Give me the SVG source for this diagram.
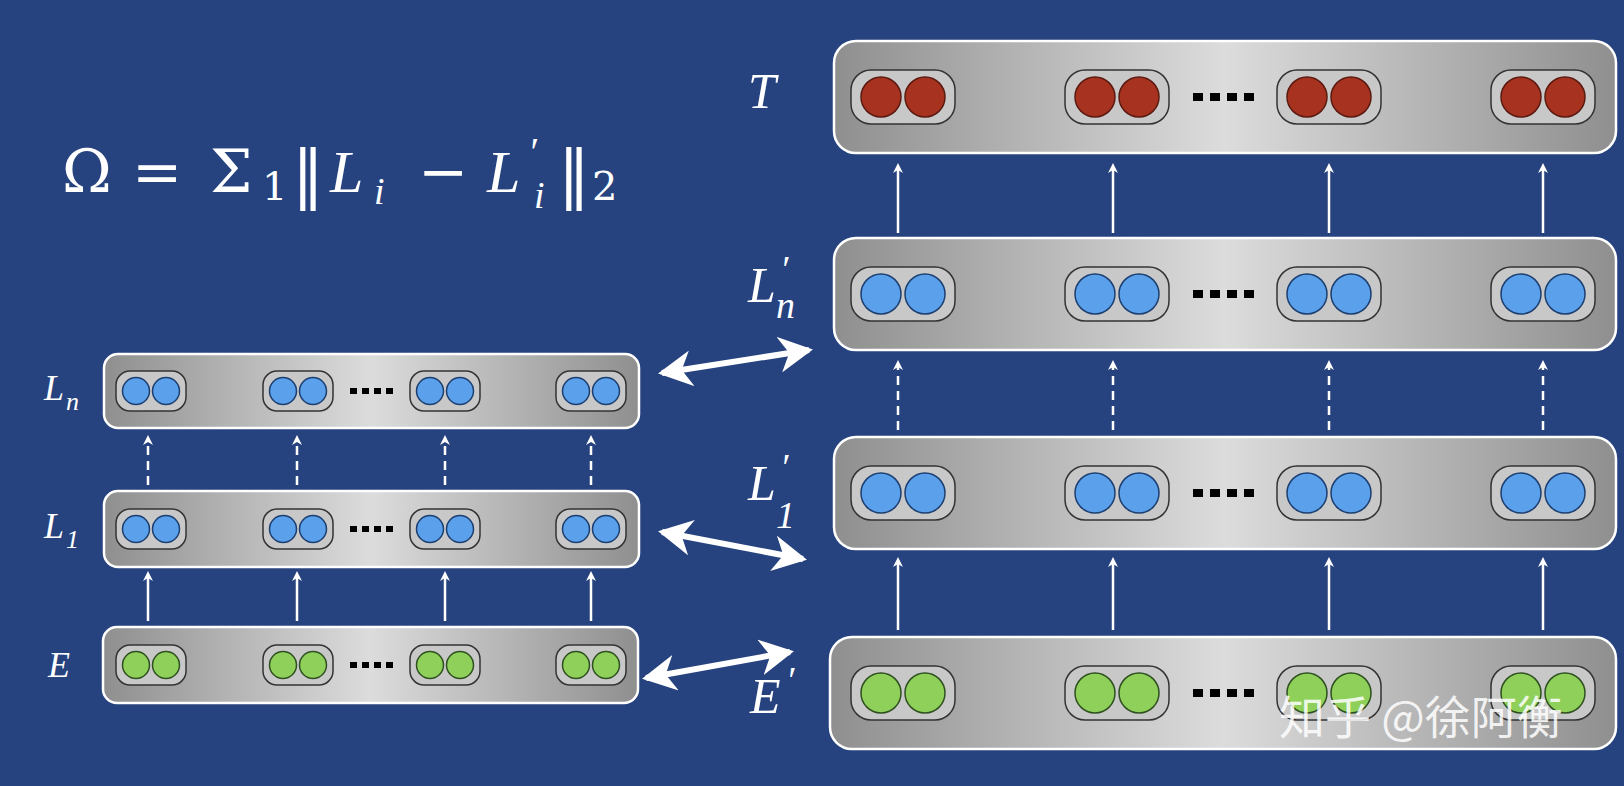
<svg xmlns="http://www.w3.org/2000/svg" width="1624" height="786" viewBox="0 0 1624 786">
<defs>
<linearGradient id="g" x1="0" x2="1" y1="0" y2="0"><stop offset="0" stop-color="#8f8f8f"/><stop offset="0.5" stop-color="#dcdcdc"/><stop offset="1" stop-color="#8f8f8f"/></linearGradient>
<marker id="ah" markerWidth="10" markerHeight="10" refX="5" refY="5" orient="auto" markerUnits="userSpaceOnUse" viewBox="0 0 10 10"><path d="M0,0 L10,5 L0,10 L3,5 Z" fill="#fff"/></marker>
<marker id="bh" markerWidth="40" markerHeight="36" refX="30" refY="18" orient="auto-start-reverse" markerUnits="userSpaceOnUse" viewBox="0 0 40 36"><path d="M0,0 L34,18 L0,36 L10,18 Z" fill="#fff"/></marker>
<style>
.box{fill:url(#g);stroke:#fff;stroke-width:2.5}
.pair{fill:#c8c8c8;stroke:#333;stroke-width:1.5}
.r{fill:#a83220;stroke:#5a1a10;stroke-width:1.5}
.b{fill:#5aa0ea;stroke:#1c3e70;stroke-width:1.5}
.gr{fill:#8fd05a;stroke:#2f5020;stroke-width:1.5}
.lab{font-family:"Liberation Serif","DejaVu Serif",serif;font-style:italic;fill:#fff}
.f{font-family:"DejaVu Serif","Liberation Serif",serif;fill:#fff}
.a{stroke:#fff;stroke-width:2.5;fill:none;marker-end:url(#ah)}
.d{stroke:#fff;stroke-width:2.5;fill:none;stroke-dasharray:9 6;marker-end:url(#ah)}
.dbl{stroke:#fff;stroke-width:6;fill:none;marker-start:url(#bh);marker-end:url(#bh)}
</style>
<g id="pR"><rect x="-52" y="-27" width="104" height="54" rx="20" class="pair"/></g>
<g id="pL"><rect x="-35" y="-20" width="70" height="40" rx="14" class="pair"/></g>
</defs>
<rect width="1624" height="786" fill="#27437f"/>
<g id="formula" class="f">
<text x="62" y="192" font-size="60">Ω</text>
<text x="132" y="192" font-size="60">=</text>
<text x="210" y="192" font-size="60">Σ</text>
<text x="262" y="200" font-size="40">1</text>
<text x="292" y="196" font-size="64">‖</text>
<text x="330" y="192" font-size="60" font-style="italic" font-family="Liberation Serif,serif">L</text>
<text x="374" y="204" font-size="38" font-style="italic" font-family="Liberation Serif,serif">i</text>
<text x="418" y="192" font-size="60">−</text>
<text x="487" y="192" font-size="60" font-style="italic" font-family="Liberation Serif,serif">L</text>
<text x="528" y="165" font-size="40" font-style="italic" font-family="Liberation Serif,serif">′</text>
<text x="534" y="208" font-size="38" font-style="italic" font-family="Liberation Serif,serif">i</text>
<text x="558" y="196" font-size="64">‖</text>
<text x="592" y="200" font-size="40">2</text>
</g>

<g id="T">
<rect x="834" y="41" width="782" height="112" rx="22" class="box"/>
<use href="#pR" x="903" y="97"/><circle cx="881" cy="97" r="20" class="r"/><circle cx="925" cy="97" r="20" class="r"/>
<use href="#pR" x="1117" y="97"/><circle cx="1095" cy="97" r="20" class="r"/><circle cx="1139" cy="97" r="20" class="r"/>
<use href="#pR" x="1329" y="97"/><circle cx="1307" cy="97" r="20" class="r"/><circle cx="1351" cy="97" r="20" class="r"/>
<use href="#pR" x="1543" y="97"/><circle cx="1521" cy="97" r="20" class="r"/><circle cx="1565" cy="97" r="20" class="r"/>
<path d="M1193,97h62" stroke="#000" stroke-width="8" stroke-dasharray="10 7"/>
<text x="748" y="108" font-size="50" class="lab">T</text>
</g>
<g id="Lnp">
<rect x="834" y="238" width="782" height="112" rx="22" class="box"/>
<use href="#pR" x="903" y="294"/><circle cx="881" cy="294" r="20" class="b"/><circle cx="925" cy="294" r="20" class="b"/>
<use href="#pR" x="1117" y="294"/><circle cx="1095" cy="294" r="20" class="b"/><circle cx="1139" cy="294" r="20" class="b"/>
<use href="#pR" x="1329" y="294"/><circle cx="1307" cy="294" r="20" class="b"/><circle cx="1351" cy="294" r="20" class="b"/>
<use href="#pR" x="1543" y="294"/><circle cx="1521" cy="294" r="20" class="b"/><circle cx="1565" cy="294" r="20" class="b"/>
<path d="M1193,294h62" stroke="#000" stroke-width="8" stroke-dasharray="10 7"/>
<text x="748" y="302" font-size="50" class="lab">L</text>
<text x="780" y="282" font-size="38" class="lab">′</text>
<text x="776" y="318" font-size="38" class="lab">n</text>
</g>
<g id="L1p">
<rect x="834" y="437" width="782" height="112" rx="22" class="box"/>
<use href="#pR" x="903" y="493"/><circle cx="881" cy="493" r="20" class="b"/><circle cx="925" cy="493" r="20" class="b"/>
<use href="#pR" x="1117" y="493"/><circle cx="1095" cy="493" r="20" class="b"/><circle cx="1139" cy="493" r="20" class="b"/>
<use href="#pR" x="1329" y="493"/><circle cx="1307" cy="493" r="20" class="b"/><circle cx="1351" cy="493" r="20" class="b"/>
<use href="#pR" x="1543" y="493"/><circle cx="1521" cy="493" r="20" class="b"/><circle cx="1565" cy="493" r="20" class="b"/>
<path d="M1193,493h62" stroke="#000" stroke-width="8" stroke-dasharray="10 7"/>
<text x="748" y="500" font-size="50" class="lab">L</text>
<text x="780" y="480" font-size="38" class="lab">′</text>
<text x="776" y="528" font-size="38" class="lab" font-style="normal">1</text>
</g>
<g id="Ep">
<rect x="830" y="637" width="786" height="112" rx="22" class="box"/>
<use href="#pR" x="903" y="693"/><circle cx="881" cy="693" r="20" class="gr"/><circle cx="925" cy="693" r="20" class="gr"/>
<use href="#pR" x="1117" y="693"/><circle cx="1095" cy="693" r="20" class="gr"/><circle cx="1139" cy="693" r="20" class="gr"/>
<use href="#pR" x="1329" y="693"/><circle cx="1307" cy="693" r="20" class="gr"/><circle cx="1351" cy="693" r="20" class="gr"/>
<use href="#pR" x="1543" y="693"/><circle cx="1521" cy="693" r="20" class="gr"/><circle cx="1565" cy="693" r="20" class="gr"/>
<path d="M1193,693h62" stroke="#000" stroke-width="8" stroke-dasharray="10 7"/>
<text x="750" y="713" font-size="50" class="lab">E</text>
<text x="786" y="693" font-size="38" class="lab">′</text>
</g>
<g id="Ln">
<rect x="104" y="354" width="535" height="74" rx="14" class="box"/>
<use href="#pL" x="151" y="391"/><circle cx="136" cy="391" r="13.5" class="b"/><circle cx="166" cy="391" r="13.5" class="b"/>
<use href="#pL" x="298" y="391"/><circle cx="283" cy="391" r="13.5" class="b"/><circle cx="313" cy="391" r="13.5" class="b"/>
<use href="#pL" x="445" y="391"/><circle cx="430" cy="391" r="13.5" class="b"/><circle cx="460" cy="391" r="13.5" class="b"/>
<use href="#pL" x="591" y="391"/><circle cx="576" cy="391" r="13.5" class="b"/><circle cx="606" cy="391" r="13.5" class="b"/>
<path d="M350,391h45" stroke="#000" stroke-width="6" stroke-dasharray="7 5"/>
<text x="44" y="400" font-size="36" class="lab">L</text>
<text x="66" y="410" font-size="26" class="lab">n</text>
</g>
<g id="L1">
<rect x="104" y="491" width="535" height="76" rx="14" class="box"/>
<use href="#pL" x="151" y="529"/><circle cx="136" cy="529" r="13.5" class="b"/><circle cx="166" cy="529" r="13.5" class="b"/>
<use href="#pL" x="298" y="529"/><circle cx="283" cy="529" r="13.5" class="b"/><circle cx="313" cy="529" r="13.5" class="b"/>
<use href="#pL" x="445" y="529"/><circle cx="430" cy="529" r="13.5" class="b"/><circle cx="460" cy="529" r="13.5" class="b"/>
<use href="#pL" x="591" y="529"/><circle cx="576" cy="529" r="13.5" class="b"/><circle cx="606" cy="529" r="13.5" class="b"/>
<path d="M350,529h45" stroke="#000" stroke-width="6" stroke-dasharray="7 5"/>
<text x="44" y="538" font-size="36" class="lab">L</text>
<text x="66" y="548" font-size="26" class="lab" font-style="normal">1</text>
</g>
<g id="E">
<rect x="103" y="627" width="535" height="76" rx="14" class="box"/>
<use href="#pL" x="151" y="665"/><circle cx="136" cy="665" r="13.5" class="gr"/><circle cx="166" cy="665" r="13.5" class="gr"/>
<use href="#pL" x="298" y="665"/><circle cx="283" cy="665" r="13.5" class="gr"/><circle cx="313" cy="665" r="13.5" class="gr"/>
<use href="#pL" x="445" y="665"/><circle cx="430" cy="665" r="13.5" class="gr"/><circle cx="460" cy="665" r="13.5" class="gr"/>
<use href="#pL" x="591" y="665"/><circle cx="576" cy="665" r="13.5" class="gr"/><circle cx="606" cy="665" r="13.5" class="gr"/>
<path d="M350,665h45" stroke="#000" stroke-width="6" stroke-dasharray="7 5"/>
<text x="48" y="677" font-size="36" class="lab">E</text>
</g>
<g id="connectors">
<path class="a" d="M898,233V168"/><path class="a" d="M1113,233V168"/><path class="a" d="M1329,233V168"/><path class="a" d="M1543,233V168"/>
<path class="d" d="M898,430V365"/><path class="d" d="M1113,430V365"/><path class="d" d="M1329,430V365"/><path class="d" d="M1543,430V365"/>
<path class="a" d="M898,630V562"/><path class="a" d="M1113,630V562"/><path class="a" d="M1329,630V562"/><path class="a" d="M1543,630V562"/>
<path class="d" d="M148,485V440"/><path class="d" d="M297,485V440"/><path class="d" d="M445,485V440"/><path class="d" d="M591,485V440"/>
<path class="a" d="M148,621V576"/><path class="a" d="M297,621V576"/><path class="a" d="M445,621V576"/><path class="a" d="M591,621V576"/>
<path class="dbl" d="M662,373L809,350"/>
<path class="dbl" d="M662,532L803,559"/>
<path class="dbl" d="M646,678L790,652"/>
</g>
<text x="1279" y="734" font-family="Noto Sans CJK SC,sans-serif" font-size="46" fill="#fff" fill-opacity="0.85">知乎 @徐阿衡</text>
</svg>
